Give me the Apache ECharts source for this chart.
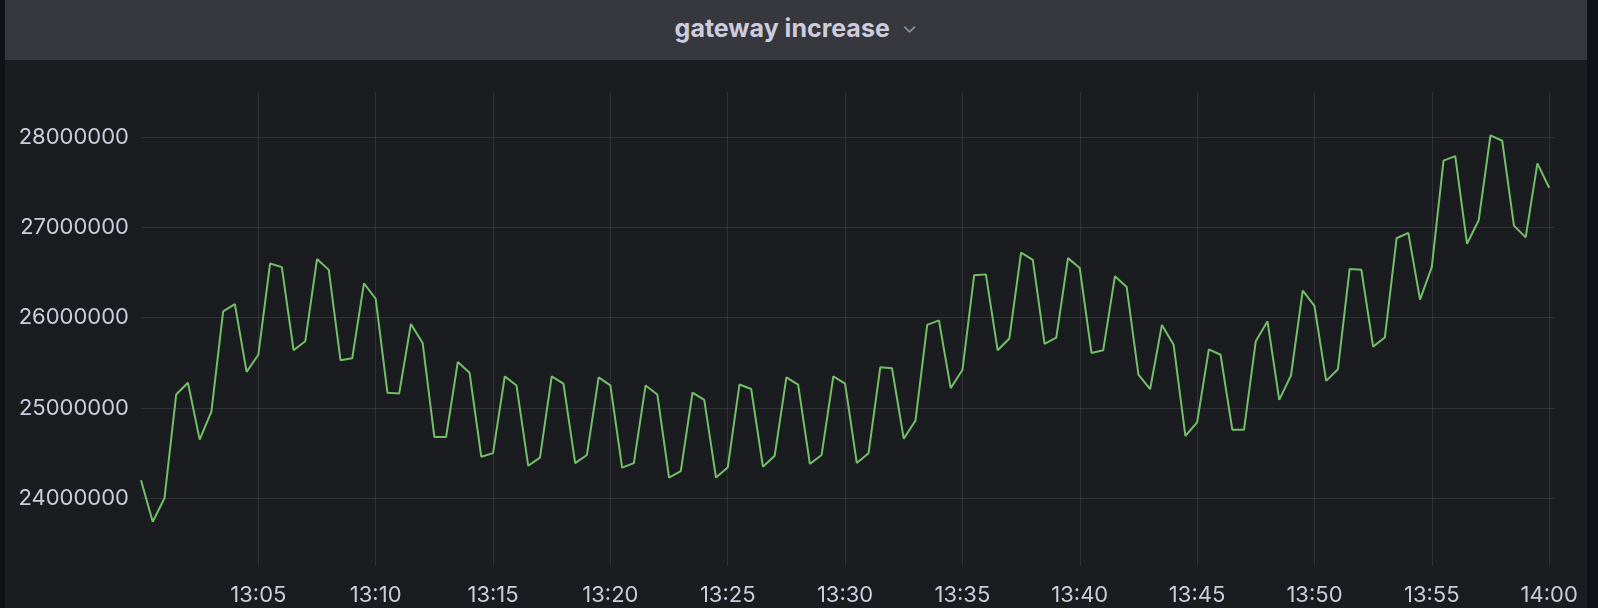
<!DOCTYPE html>
<html>
<head>
<meta charset="utf-8">
<script src="https://cdn.jsdelivr.net/npm/echarts@6/dist/echarts.min.js"></script>
<style>
  html, body { margin: 0; padding: 0; background: #111217; }
  #panel { position: absolute; left: 5px; top: 0; width: 1582px; height: 608px; background: #1b1c20; }
  #titlebar { position: absolute; left: 0; top: 0; width: 100%; height: 60px; background: #37383e;
    color: #ccccdc; font-family: Inter, sans-serif; font-weight: 700; font-size: 25px;
    line-height: 56px; text-align: center; }
  #titlebar span.chev { font-weight: 400; font-size: 20px; color: #8e8e96; margin-left: 12px; position: relative; top: -4px; }
  #chart { position: absolute; left: 0; top: 0; width: 1598px; height: 608px; }
</style>
</head>
<body>
<div id="panel"><div id="titlebar">gateway increase<span class="chev">&#8964;</span></div></div>
<div id="chart"></div>
<script>
// 30 second samples from 13:00:00 to 14:00:00, values in millions
var startTime = '2024-01-01T13:00:00Z';
var stepSeconds = 30;
var values = [
    24.20, 23.74, 24.00, 25.15, 25.28, 24.65, 24.96, 26.07, 26.15, 25.40,
    25.59, 26.60, 26.56, 25.64, 25.74, 26.65, 26.53, 25.53, 25.55, 26.38,
    26.21, 25.17, 25.16, 25.93, 25.72, 24.68, 24.68, 25.51, 25.39, 24.46,
    24.50, 25.35, 25.25, 24.36, 24.45, 25.35, 25.27, 24.39, 24.48, 25.34,
    25.25, 24.34, 24.39, 25.25, 25.15, 24.23, 24.30, 25.17, 25.09, 24.23,
    24.34, 25.26, 25.21, 24.35, 24.47, 25.34, 25.26, 24.38, 24.48, 25.35,
    25.27, 24.39, 24.50, 25.45, 25.44, 24.66, 24.86, 25.92, 25.97, 25.22,
    25.42, 26.47, 26.48, 25.64, 25.77, 26.72, 26.64, 25.71, 25.78, 26.66,
    26.55, 25.61, 25.64, 26.46, 26.34, 25.37, 25.21, 25.92, 25.70, 24.69,
    24.84, 25.65, 25.59, 24.76, 24.76, 25.74, 25.96, 25.09, 25.36, 26.30,
    26.13, 25.30, 25.43, 26.54, 26.53, 25.68, 25.78, 26.88, 26.94, 26.20,
    26.56, 27.74, 27.79, 26.82, 27.08, 28.02, 27.96, 27.02, 26.89, 27.71,
    27.44
];

var t0 = new Date(startTime).getTime();
var seriesData = values.map(function (v, i) {
    return [t0 + i * stepSeconds * 1000, Math.round(v * 1000000)];
});

var gridColor = 'rgba(204,204,220,0.12)';
var fiveMin = 5 * 60 * 1000;
// first vertical line (13:00, at the plot edge) is not drawn
var xLineColors = ['transparent'];
for (var k = 0; k < 12; k++) xLineColors.push(gridColor);

var myChart = echarts.init(document.getElementById('chart'));
var option = {
    backgroundColor: 'transparent',
    animation: false,
    grid: { left: 141, right: 43, top: 92, bottom: 42 },
    xAxis: {
        type: 'value',
        min: t0,
        max: t0 + 3600 * 1000 + 15000,
        interval: fiveMin,
        axisLine: { show: false },
        axisTick: { show: false },
        splitLine: { show: true, lineStyle: { color: xLineColors, width: 1 } },
        axisLabel: {
            color: '#ccccdc', fontSize: 22, fontFamily: 'Inter', margin: 18,
            showMaxLabel: false,
            formatter: function (val) {
                if (val === t0 || (val - t0) % fiveMin !== 0) return '';
                var d = new Date(val);
                var h = d.getUTCHours(), m = d.getUTCMinutes();
                return h + ':' + (m < 10 ? '0' + m : m);
            }
        }
    },
    yAxis: {
        type: 'value',
        min: 23250000,
        max: 28500000,
        interval: 250000,
        axisLine: { show: false },
        axisTick: { show: false },
        splitLine: { show: true, lineStyle: { color: ['transparent', 'transparent', 'transparent', gridColor], width: 1 } },
        axisLabel: {
            color: '#ccccdc', fontSize: 22, fontFamily: 'Inter', margin: 12,
            formatter: function (v) { return v % 1000000 === 0 ? String(v) : ''; }
        }
    },
    series: [{
        type: 'line',
        data: seriesData,
        showSymbol: false,
        lineStyle: { color: '#73bf69', width: 2 },
        itemStyle: { color: '#73bf69' }
    }]
};
myChart.setOption(option);
</script>
</body>
</html>
